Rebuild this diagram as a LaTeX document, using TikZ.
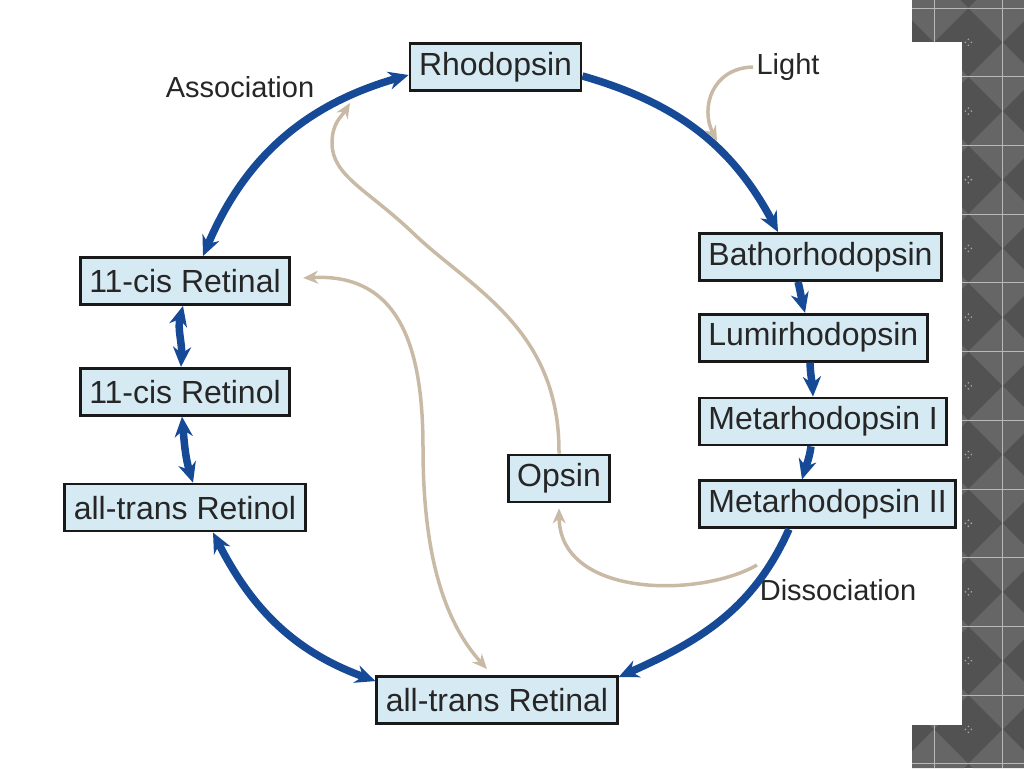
\documentclass[tikz,border=0pt]{standalone}
\usepackage{fontspec}
\setmainfont{Liberation Sans}
\usetikzlibrary{positioning,arrows.meta}
\definecolor{cycblue}{RGB}{22,74,150}
\definecolor{tanline}{RGB}{201,186,166}
\definecolor{boxfill}{RGB}{214,234,243}
\definecolor{tiledark}{RGB}{82,82,82}
\definecolor{tilelight}{RGB}{102,102,102}

\begin{document}
\begin{tikzpicture}[
  x=1pt, y=1pt,
  mybox/.style={draw=black!90,line width=2.8pt,fill=boxfill,inner xsep=9pt,inner ysep=0pt,minimum height=47pt,font=\fontsize{32}{37}\selectfont,text=black!85},
  mylabel/.style={font=\fontsize{29}{34}\selectfont,text=black!85},
  cyc/.style={draw=cycblue,line width=7.5pt,>={Stealth[length=20pt,width=18pt]},->},
  cycboth/.style={cyc,<->},
  tanarrow/.style={draw=tanline,line width=3.5pt,>={Stealth[length=15pt,width=13pt]},->}
]
\useasboundingbox (0,0) rectangle (1024,768);

% tiled strip on the right
\begin{scope}
\clip (912,768) -- (1024,768) -- (1024,0) -- (912,0) -- (912,43) -- (962,43) -- (962,726) -- (912,726) -- cycle;
\fill[tiledark] (900,0) rectangle (1024,768);
\foreach \i in {0,...,2}
  \foreach \j in {0,...,11}
    \fill[tilelight] ({934+68.7*\i},{760-68.7*\j}) ++(-34.35,0) -- ++(34.35,34.35) -- ++(34.35,-34.35) -- ++(-34.35,-34.35) -- cycle;
\foreach \i in {0,...,2}
  \draw[gray!55,line width=0.7pt] ({934+68.7*\i},0) -- ({934+68.7*\i},768);
\foreach \j in {0,...,11}
  \draw[gray!55,line width=0.7pt] (900,{760-68.7*\j}) -- (1024,{760-68.7*\j});
\foreach \j in {0,...,11}
  \foreach \dx/\dy in {3/0,-3/0,0/3,0/-3}
    \fill[gray!70] ({968.35+\dx},{725.65-68.7*\j+\dy}) circle (0.9);
\end{scope}

% boxes
\node[mybox] (Rh) at (495.5,701) {Rhodopsin};
\node[mybox,anchor=north west] (Ba) at (698,536) {Bathorhodopsin};
\node[mybox,below right=31pt and 0pt of Ba.south west] (Lu) {Lumirhodopsin};
\node[mybox,below right=34pt and 0pt of Lu.south west] (M1) {Metarhodopsin I};
\node[mybox,below right=33pt and 0pt of M1.south west] (M2) {Metarhodopsin II};
\node[mybox] (AR) at (497,68) {all-trans Retinal};
\node[mybox] (CRal) at (185,487) {11-cis Retinal};
\node[mybox,below=61pt of CRal] (CRol) {11-cis Retinol};
\node[mybox,below=66pt of CRol] (ATol) {all-trans Retinol};
\node[mybox] (Op) at (559,289.5) {Opsin};

% labels
\node[mylabel] (As) at (240,681) {Association};
\node[mylabel] (Lt) at (788,701) {Light};
\node[mylabel] (Di) at (838,178) {Dissociation};

% the cycle
\path ([yshift=-9pt]Rh.east) edge[cyc,out=-16,in=118] ([xshift=80pt]Ba.north west)
  ([xshift=100pt]Ba.south west) edge[cyc,out=-76,in=105] ([xshift=107pt]Lu.north west)
  ([xshift=112pt]Lu.south west) edge[cyc,out=-88,in=93] ([xshift=115pt]M1.north west)
  ([xshift=113pt]M1.south west) edge[cyc,out=-98,in=74] ([xshift=104pt]M2.north west)
  ([xshift=91pt]M2.south west) edge[cyc,out=-114,in=24] ([yshift=-2pt]AR.north east)
  ([yshift=-6pt]AR.north west) edge[cycboth,out=160,in=-63] ([xshift=28pt]ATol.south)
  ([xshift=8pt]ATol.north) edge[cycboth,out=107,in=-85] ([xshift=-3pt]CRol.south)
  ([xshift=-4pt]CRol.north) edge[cycboth,out=87,in=-104] ([xshift=-2pt]CRal.south)
  ([xshift=18pt]CRal.north) edge[cycboth,out=67,in=-164] ([yshift=-8pt]Rh.west);

% side arrows
\coordinate (lighttip) at (717,627);
\coordinate (assoctip) at (350,665);
\coordinate (disstart) at (757,203);
\draw[tanarrow] (Lt.west) .. controls (712,700) and (700,660) .. (lighttip);
\draw[tanarrow] (Op.north) .. controls (560,440) and (470,480) .. (413,535)
  .. controls (368,578) and (332,592) .. (332,625) .. controls (332,645) and (342,652) .. (assoctip);
\draw[tanarrow,<->] ([xshift=12pt,yshift=3pt]CRal.east) .. controls (400,495) and (423,420) .. (423,320)
  .. controls (423,200) and (450,140) .. ([xshift=-10pt,yshift=6pt]AR.north);
\draw[tanarrow] (disstart) .. controls (700,170) and (560,170) .. ([yshift=-5pt]Op.south);
\end{tikzpicture}
\end{document}
